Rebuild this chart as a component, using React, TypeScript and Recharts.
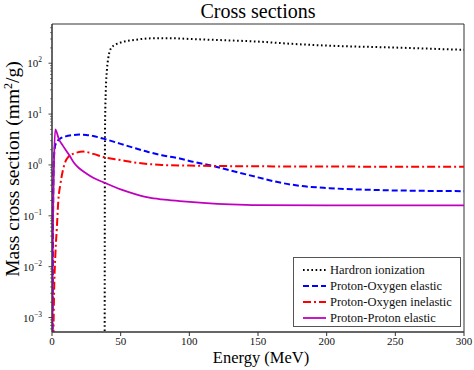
import { LineChart, Line, XAxis, YAxis, Legend, ReferenceArea } from 'recharts';

// Energies (MeV) and mass cross sections (mm^2/g)
const hadronEnergy = [38.3, 38.4, 38.6, 39.2, 40, 41, 43, 46, 50, 60, 75, 90, 100, 125, 150, 175, 200, 250, 300];
const hadronValues = [1e-5, 0.01, 5, 30, 74, 127, 197, 230, 255, 287, 310, 308, 300, 283, 266, 240, 222, 203, 183];

const poElasticEnergy = [0.3, 0.6, 1, 1.5, 2.5, 6, 10, 15, 20, 25, 30, 38, 50, 60, 70, 80, 93, 100, 117, 130, 150, 166, 180, 202, 239, 270, 300];
const poElasticValues = [1e-5, 0.01, 0.5, 1.5, 2.5, 3.3, 3.65, 3.85, 3.95, 3.9, 3.7, 3.25, 2.6, 2.15, 1.8, 1.55, 1.34, 1.2, 0.96, 0.78, 0.57, 0.45, 0.39, 0.35, 0.32, 0.31, 0.305];

const poInelasticEnergy = [1.0, 1.5, 2.4, 3.6, 4.6, 6, 8, 10, 12, 16, 23, 30, 38, 50, 60, 80, 100, 150, 200, 300];
const poInelasticValues = [4e-4, 3e-3, 0.016, 0.063, 0.2, 0.4, 0.8, 1.2, 1.45, 1.68, 1.83, 1.65, 1.42, 1.25, 1.12, 1.0, 0.97, 0.94, 0.93, 0.92];

const ppElasticEnergy = [0.2, 0.5, 1.2, 2.4, 5, 8, 13, 16, 20, 25, 30, 38, 50, 60, 70, 80, 93, 110, 130, 150, 200, 300];
const ppElasticValues = [1e-5, 0.01, 0.5, 5.0, 3.2, 2.37, 1.5, 1.1, 0.85, 0.68, 0.56, 0.45, 0.33, 0.27, 0.23, 0.21, 0.195, 0.18, 0.168, 0.162, 0.16, 0.16];

const energyTicks = [0, 50, 100, 150, 200, 250, 300];
const decadeExps = [-4, -3, -2, -1, 0, 1, 2];
const mantissas = [1, 2, 3, 4, 5, 6, 7, 8, 9];
const yDomain: [number, number] = [5.2e-4, 590];

const FONT = "'Liberation Serif', 'Times New Roman', serif";
const AXIS = '#333';

const zip = (xs: number[], ys: number[]) => xs.map((x, i) => ({ x, y: ys[i] }));

const series = [
  { name: 'Hardron ionization', data: zip(hadronEnergy, hadronValues), stroke: '#000', dash: '1.6 2.6', width: 2 },
  { name: 'Proton-Oxygen elastic', data: zip(poElasticEnergy, poElasticValues), stroke: '#0000ff', dash: '6 3', width: 2 },
  { name: 'Proton-Oxygen inelastic', data: zip(poInelasticEnergy, poInelasticValues), stroke: '#ff0000', dash: '8 3 2 3', width: 2 },
  { name: 'Proton-Proton elastic', data: zip(ppElasticEnergy, ppElasticValues), stroke: '#bf00bf', dash: undefined, width: 1.8 },
];

const yTicks = decadeExps
  .flatMap(e => mantissas.map(m => m * Math.pow(10, e)))
  .filter(v => v >= yDomain[0] && v <= yDomain[1]);

function LogTick(props: any) {
  const { x, y, payload } = props;
  const v = payload.value as number;
  const exp = Math.round(Math.log10(v));
  const major = Math.abs(v - Math.pow(10, exp)) < 1e-6 * v;
  return (
    <g>
      <line x1={x - (major ? 3.5 : 2)} x2={x} y1={y} y2={y} stroke={AXIS} strokeWidth={major ? 0.9 : 0.6} />
      {major ? (
        <text x={x - 10} y={y + 4} textAnchor="end" fontFamily={FONT} fontSize={11} fill="#111">
          10
          <tspan dy={-5} fontSize={7.5}>
            {exp < 0 ? '\u2212' + -exp : String(exp)}
          </tspan>
        </text>
      ) : null}
    </g>
  );
}

function LegendBox() {
  return (
    <div
      style={{
        width: 168,
        height: 70,
        boxSizing: 'border-box',
        border: '1px solid #555',
        background: '#fff',
        paddingTop: 4,
        fontFamily: FONT,
        fontSize: 12.5,
        color: '#111',
      }}
    >
      {series.map(s => (
        <div key={s.name} style={{ display: 'flex', alignItems: 'center', height: 16 }}>
          <svg width={36} height={10} style={{ flex: 'none' }}>
            <line x1={9} x2={32} y1={5} y2={5} stroke={s.stroke} strokeWidth={s.width} strokeDasharray={s.dash} />
          </svg>
          <span style={{ whiteSpace: 'nowrap', lineHeight: '16px' }}>{s.name}</span>
        </div>
      ))}
    </div>
  );
}

export default function App() {
  return (
    <div style={{ position: 'relative', width: 474, height: 370, background: '#fff' }}>
      <style>{'body{margin:0}'}</style>
      <LineChart width={474} height={370} margin={{ top: 24, right: 10, bottom: 0, left: 0 }}>
        <XAxis
          type="number"
          dataKey="x"
          domain={[0, 300]}
          ticks={energyTicks}
          interval={0}
          allowDataOverflow
          height={38}
          tickSize={4}
          tickMargin={1}
          stroke={AXIS}
          tick={{ fontSize: 11, fill: '#111', fontFamily: FONT }}
        />
        <YAxis
          type="number"
          scale="log"
          domain={yDomain}
          allowDataOverflow
          ticks={yTicks}
          interval={0}
          width={52}
          tickSize={0}
          tickMargin={0}
          tickLine={false}
          stroke={AXIS}
          tick={LogTick}
        />
        {series.map(s => (
          <Line
            key={s.name}
            data={s.data}
            dataKey="y"
            name={s.name}
            type="monotone"
            stroke={s.stroke}
            strokeWidth={s.width}
            strokeDasharray={s.dash}
            dot={false}
            activeDot={false}
            isAnimationActive={false}
          />
        ))}
        <ReferenceArea x1={0} x2={300} y1={yDomain[0]} y2={yDomain[1]} fill="none" stroke={AXIS} strokeWidth={1} ifOverflow="visible" />
        <Legend
          layout="vertical"
          align="center"
          verticalAlign="middle"
          content={() => <LegendBox />}
          wrapperStyle={{ left: 293, top: 257, width: 168, height: 70 }}
        />
      </LineChart>
      <svg width={474} height={370} style={{ position: 'absolute', left: 0, top: 0, pointerEvents: 'none' }}>
        <text x={258} y={18} textAnchor="middle" fontFamily={FONT} fontSize={20} fill="#000">
          Cross sections
        </text>
        <text x={261} y={363} textAnchor="middle" fontFamily={FONT} fontSize={16.5} fill="#000">
          Energy (MeV)
        </text>
        <text
          x={0}
          y={0}
          transform="translate(19,169) rotate(-90)"
          textAnchor="middle"
          fontFamily={FONT}
          fontSize={19.5}
          fill="#000"
        >
          Mass cross section (mm
          <tspan dy={-7} fontSize={12}>2</tspan>
          <tspan dy={7}>/g)</tspan>
        </text>
      </svg>
    </div>
  );
}
